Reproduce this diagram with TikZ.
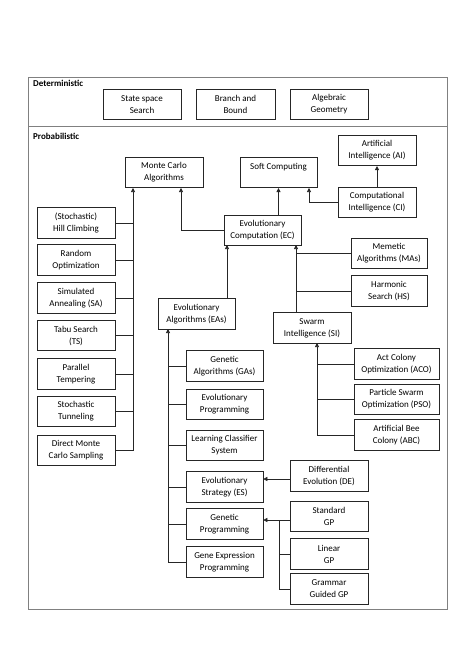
\documentclass[tikz,border=0pt]{standalone}
\usepackage{fontspec}
\setmainfont{Carlito}
\usetikzlibrary{arrows.meta,calc}
\tikzset{
  box/.style={draw=black!85, line width=0.6pt, minimum width=78pt, minimum height=30.5pt,
    inner sep=1pt, align=center, font=\fontsize{9}{12}\selectfont},
  wbox/.style={box, minimum width=85pt},
  conn/.style={draw=black!85, line width=0.6pt},
  arr/.style={conn, -{Triangle[length=4pt,width=4pt]}},
  frame/.style={draw=black!50, line width=1pt},
  seclabel/.style={anchor=north west, inner sep=0pt, font=\fontsize{9}{11}\selectfont\bfseries}
}
\begin{document}
\begin{tikzpicture}[x=1pt,y=-1pt]
\useasboundingbox (0,0) rectangle (474,670);
% frame
\draw[frame] (28,77) coordinate (fa) rectangle (447,609) coordinate (fb);
\draw[frame] (28,126) coordinate (da) -- (447,126) coordinate (db);
\node[seclabel] (det) at (33,80) {Deterministic};
\node[seclabel] (prob) at (33,133) {Probabilistic};
% deterministic
\node[box] (SSS) at (142,104.5) {State space\\Search};
\node[box,minimum width=79pt] (BB) at (235.5,104.5) {Branch and\\Bound};
\node[box] (AG) at (329,104.5) {Algebraic\\Geometry};
% top level
\node[box] (MC) at (164,172.5) {Monte Carlo\\Algorithms};
\node[box,minimum width=77pt,text depth=13pt] (SC) at (278.5,172.5) {Soft Computing};
\node[box] (AI) at (377,150.5) {Artificial\\Intelligence (AI)};
\node[box] (CI) at (377,202.5) {Computational\\Intelligence (CI)};
% left column
\node[box] (HC) at (76,223) {(Stochastic)\\Hill Climbing};
\node[box] (RO) at (76,260) {Random\\Optimization};
\node[box] (SA) at (76,298) {Simulated\\Annealing (SA)};
\node[box] (TS) at (76,335.5) {Tabu Search\\(TS)};
\node[box] (PT) at (76,374) {Parallel\\Tempering};
\node[box] (ST) at (76,411.5) {Stochastic\\Tunneling};
\node[box] (DMC) at (76,450.5) {Direct Monte\\Carlo Sampling};
% EC
\node[box,minimum width=77pt] (EC) at (262.5,230.5) {Evolutionary\\Computation (EC)};
\node[box,minimum width=76pt] (MA) at (389,253.5) {Memetic\\Algorithms (MAs)};
\node[box,minimum width=76pt] (HS) at (389,291) {Harmonic\\Search (HS)};
\node[box,minimum width=77pt] (EA) at (196.5,314) {Evolutionary\\Algorithms (EAs)};
\node[box] (SI) at (312,328) {Swarm\\Intelligence (SI)};
% EA children
\node[box,minimum width=77pt] (GA) at (224.5,366) {Genetic\\Algorithms (GAs)};
\node[box,minimum width=77pt] (EP) at (224.5,404.5) {Evolutionary\\Programming};
\node[box,minimum width=77pt] (LCS) at (224.5,445.5) {Learning Classifier\\System};
\node[box,minimum width=77pt] (ES) at (224.5,487) {Evolutionary\\Strategy (ES)};
\node[box,minimum width=77pt] (GP) at (224.5,524) {Genetic\\Programming};
\node[box,minimum width=77pt] (GEP) at (224.5,562) {Gene Expression\\Programming};
% SI children
\node[wbox] (ACO) at (396.5,364) {Act Colony\\Optimization (ACO)};
\node[wbox] (PSO) at (396.5,399.5) {Particle Swarm\\Optimization (PSO)};
\node[wbox] (ABC) at (396.5,435) {Artificial Bee\\Colony (ABC)};
% DE and GP variants
\node[box] (DE) at (329,476) {Differential\\Evolution (DE)};
\node[box] (SGP) at (329,516.5) {Standard\\GP};
\node[box] (LGP) at (329,554) {Linear\\GP};
\node[box] (GGP) at (329,589) {Grammar\\Guided GP};
% bus coordinates
\coordinate (mcbus) at (133,188);
\coordinate (ecmc) at (181,188);
\coordinate (cisc) at (309,188);
\coordinate (eabus) at (168,329);
\coordinate (sibus) at (317,343);
\coordinate (ecbus) at (296,245);
\coordinate (eaec) at (227,245);
\coordinate (gpbus) at (279,520);
\coordinate (dep) at (290,479);
% Monte Carlo connectors
\draw[arr] (DMC.east) -| (mcbus);
\foreach \n in {HC,RO,SA,TS,PT,ST} \draw[conn] (\n.east) -- (\n.east -| mcbus);
\draw[arr] (EC.west) -| (ecmc);
% Soft computing
\draw[arr] (EC.north -| SC.south) -- (SC.south);
\draw[arr] (CI.west) -| (cisc);
\draw[arr] (CI.north) -- (AI.south);
% EC
\draw[arr] (EA.north -| eaec) -- (eaec);
\draw[arr] (SI.north -| ecbus) -- (ecbus);
\draw[conn] (MA.west) -- (MA.west -| ecbus);
\draw[conn] (HS.west) -- (HS.west -| ecbus);
% EA children
\draw[arr] (GEP.west) -| (eabus);
\foreach \n in {GA,EP,LCS,ES,GP} \draw[conn] (\n.west) -- (\n.west -| eabus);
% SI children
\draw[arr] (ABC.west) -| (sibus);
\foreach \n in {ACO,PSO} \draw[conn] (\n.west) -- (\n.west -| sibus);
% DE and GP
\draw[arr] (dep) -- (dep -| ES.east);
\draw[arr] (SGP.west |- gpbus) -- (GP.east |- gpbus);
\draw[conn] (GGP.west) -| (gpbus);
\draw[conn] (LGP.west) -- (LGP.west -| gpbus);
\end{tikzpicture}
\end{document}
